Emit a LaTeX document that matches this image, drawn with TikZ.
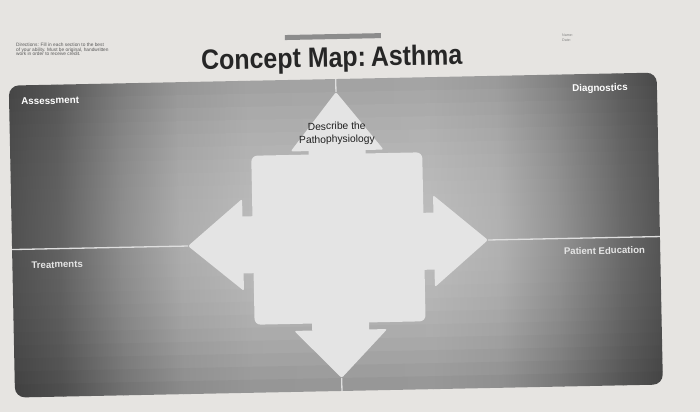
\documentclass[tikz,border=0pt]{standalone}
\usepackage{fontspec}
\setmainfont{Liberation Sans}
\usepackage{graphicx}
\definecolor{paper}{HTML}{E6E4E1}
\definecolor{shapecol}{HTML}{E4E4E4}
\definecolor{divline}{HTML}{DEDEDE}
\definecolor{gA}{HTML}{505050}
\definecolor{gB}{HTML}{626262}
\definecolor{gC}{HTML}{8C8C8C}
\definecolor{gD}{HTML}{ACACAC}
\definecolor{gE}{HTML}{BABABA}
\definecolor{gF}{HTML}{BCBCBC}
\definecolor{gG}{HTML}{B1B1B1}
\definecolor{gH}{HTML}{929292}
\definecolor{gI}{HTML}{6A6A6A}
\definecolor{gJ}{HTML}{545454}
\tikzset{
  quadlabel/.style={font=\fontsize{9.8}{10}\selectfont\bfseries, text=white, inner sep=0pt},
  fadedlabel/.style={font=\fontsize{9.6}{10}\selectfont\bfseries, text=black!10, inner sep=0pt},
  divider/.style={draw=divline, line width=1.3pt},
  piece/.style={fill=shapecol, draw=none}
}
\begin{document}
\begin{tikzpicture}[x=1pt, y=-1pt]
\useasboundingbox (0,0) rectangle (700,412);
\fill[paper] (0,0) rectangle (700,412);
% directions and name/date
\node[anchor=north west, inner sep=0pt, align=left, text=black!65,
      font=\fontsize{4.8}{4.5}\selectfont] (dirs) at (16,43)
  {Directions: Fill in each section to the best\\of your ability. Must be original, handwritten\\work in order to receive credit.};
\node[anchor=north west, inner sep=0pt, align=left, text=black!50,
      font=\fontsize{3.6}{4.7}\selectfont] (namedate) at (562,34) {Name:\\Date:};
\begin{scope}[rotate around={1.15:(339,243)}, transform shape]
  % title
  \fill[black!45] (289,34) rectangle (385,39);
  \node[anchor=base, inner sep=0pt, text=black!85,
        font=\fontsize{28}{28}\selectfont\bfseries] (title) at (335.5,67)
    {\scalebox{0.89}[1]{Concept Map:\hspace{0.2em}Asthma}};
  % panel
  \begin{scope}
    \clip[rounded corners=10pt] (12,79) rectangle (660,391);
    \foreach \r in {0,...,23} {
      \pgfmathsetmacro{\ya}{79+\r*13}
      \pgfmathsetmacro{\yb}{\ya+13.6}
      \pgfmathsetmacro{\tt}{(\ya+6.5-235)/156}
      \pgfmathsetmacro{\pp}{\tt<0 ? 100-14*\tt*\tt : 100-21*\tt*\tt}
      \foreach \xa/\xb/\ca/\cb in {11/60.6/gA/gB, 60/120.6/gB/gC, 120/180.6/gC/gD,
          180/250.6/gD/gE, 250/430.6/gE/gF, 430/500.6/gF/gG, 500/560.6/gG/gH,
          560/620.6/gH/gI, 620/661/gI/gJ} {
        \shade[left color=\ca!\pp!black, right color=\cb!\pp!black]
          (\xa,\ya) rectangle (\xb,\yb);
      }
    }
  \end{scope}
  % central shape
  \coordinate (uptip) at (339,92);
  \coordinate (downtip) at (339,378);
  \coordinate (lefttip) at (188,243);
  \coordinate (righttip) at (488,243);
  \fill[piece, rounded corners=6pt] (253,154) rectangle (424,323);
  \fill[piece, rounded corners=2pt] (uptip) -- (385.5,150.5) -- (292.5,150.5) -- cycle;
  \fill[piece] (310.5,149) rectangle (367.5,156);
  \fill[piece, rounded corners=2pt] (downtip) -- (292.5,330) -- (385.5,330) -- cycle;
  \fill[piece] (310.5,321) rectangle (367.5,331);
  \fill[piece, rounded corners=2pt] (lefttip) -- (243,197) -- (243,289) -- cycle;
  \fill[piece] (242,214.5) rectangle (255,271.5);
  \fill[piece, rounded corners=2pt] (righttip) -- (434,197) -- (434,289) -- cycle;
  \fill[piece] (422,214.5) rectangle (435,271.5);
  % dividers
  \coordinate (ptop) at (339,79);
  \coordinate (pbot) at (339,391);
  \coordinate (pleft) at (12,243);
  \coordinate (pright) at (660,243);
  \draw[divider] (ptop) -- (uptip);
  \draw[divider] (downtip) -- (pbot);
  \draw[divider] (pleft) -- (lefttip);
  \draw[divider] (righttip) -- (pright);
  % texts
  \node[align=center, inner sep=0pt, text=black!88,
        font=\fontsize{10.3}{13}\selectfont] (patho) at (339,133.5)
    {Describe the\\Pathophysiology};
  \node[quadlabel, anchor=west] (assess) at (24,95) {Assessment};
  \node[quadlabel, anchor=east] (diag) at (631,94) {Diagnostics};
  \node[fadedlabel, anchor=west] (treat) at (31,259) {Treatments};
  \node[fadedlabel, anchor=east] (educ) at (645,256) {Patient Education};
\end{scope}
\end{tikzpicture}
\end{document}
